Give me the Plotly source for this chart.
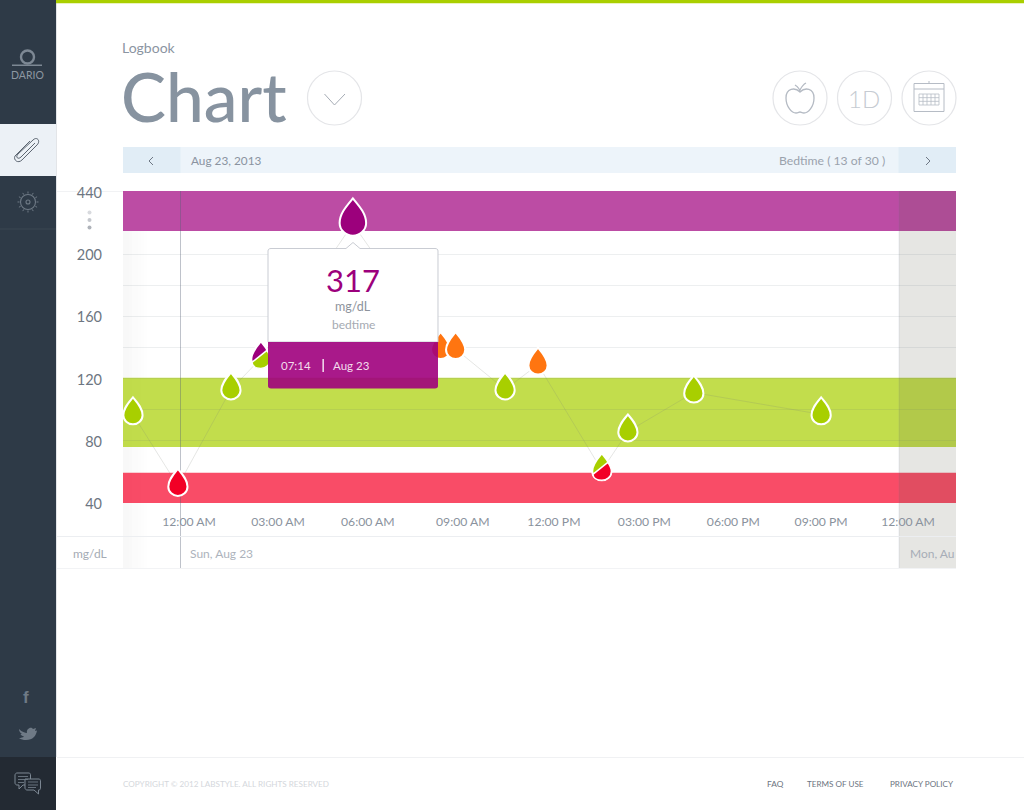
import math
import re
import plotly.graph_objects as go

# ---------- data ----------
hours = [-1.57, -0.07, 1.70, 2.70, 5.77, 8.70, 9.20, 10.85, 11.95, 14.08, 14.95, 17.15, 21.40]
glucose = [97, 51, 113, 133, 317, 139, 139, 113, 129, 61, 86, 111, 97]
levels = ["ok", "low", "ok", "ok", "top", "warn", "warn", "ok", "warn", "ok", "ok", "ok", "ok"]
split_lower = [None, None, None, "top_below_ok", None, None, None, None, None, "low", None, None, None]
y_tick_values = [40, 80, 120, 160, 200, 440]
y_tick_labels = ["40", "80", "120", "160", "200", "440"]
y_minor_values = [100, 140, 180]
x_tick_hours = [0.30, 3.27, 6.27, 9.44, 12.48, 15.50, 18.47, 21.40, 24.30]
x_tick_labels = ["12:00 AM", "03:00 AM", "06:00 AM", "09:00 AM", "12:00 PM",
                 "03:00 PM", "06:00 PM", "09:00 PM", "12:00 AM"]
band_low = [40, 59.5]
band_target = [76, 120.5]
band_high = [290, 444]
selected_value = "317"
selected_unit = "mg/dL"
selected_tag = "bedtime"
selected_time = "07:14"
selected_date = "Aug 23"

# ---------- helpers ----------
W, H = 1024, 810
PLOT_L, PLOT_R, PLOT_T, PLOT_B = 123, 956, 191, 503
PX_PER_HOUR = 29.96
ZERO_PX = 180
COL = {"ok": "#a8cf00", "low": "#f20026", "warn": "#ff7510", "top": "#9c007c"}
TXT = "#7f8894"


def squash(v):
    """The axis is compressed above 200 mg/dL (200 -> 440 takes one 40 step)."""
    return v if v <= 200 else 200 + (v - 200) / 6


def px(x):
    return x / W


def py(y):
    return 1 - y / H


def pp(d):
    out, i = [], 0
    for tok in re.findall(r"[A-Za-z]|-?\d+\.?\d*", d):
        if tok.isalpha():
            out.append(tok)
        else:
            v = float(tok)
            out.append(f"{px(v) if i % 2 == 0 else py(v):.5f}")
            i += 1
    return " ".join(out)


shapes = []
annotations = []


def rect(x0, y0, x1, y1, fill, layer="below", line=None):
    shapes.append(dict(type="rect", xref="paper", yref="paper", x0=px(x0), x1=px(x1),
                       y0=py(y0), y1=py(y1), fillcolor=fill, layer=layer,
                       line=dict(width=0) if line is None else line))


def path(d, stroke="#000", width=1.0, fill="rgba(0,0,0,0)", layer="above"):
    shapes.append(dict(type="path", xref="paper", yref="paper", path=pp(d), layer=layer,
                       fillcolor=fill, line=dict(color=stroke, width=width)))


def circle(cx, cy, r, stroke="#e4e5e8", width=1.2, fill="rgba(0,0,0,0)", layer="above"):
    shapes.append(dict(type="circle", xref="paper", yref="paper", x0=px(cx - r), x1=px(cx + r),
                       y0=py(cy + r), y1=py(cy - r), fillcolor=fill, layer=layer,
                       line=dict(color=stroke, width=width)))


def text(x, y, s, size=12, color=TXT, anchor="left", family="Lato", weight=None):
    # annotations carry about 2px of inner padding
    shift = {"left": -2, "right": 2, "center": 0}[anchor]
    font = dict(size=size, color=color, family=family)
    if weight:
        font["weight"] = weight
    annotations.append(dict(xref="paper", yref="paper", x=px(x + shift), y=py(y), text=s, showarrow=False,
                            xanchor=anchor, yanchor="middle", align=anchor, font=font))


def drop_path(k=1.0, dy=0.0):
    pts = [(0, 17), (4.6, 11.5), (9.6, 6), (9.6, -0.8), (9.6, -6), (5, -10), (0, -10),
           (-5, -10), (-9.6, -6), (-9.6, -0.8), (-9.6, 6), (-4.6, 11.5), (0, 17)]
    p = [(a * k, b * k + dy) for a, b in pts]
    d = f"M {p[0][0]:.2f} {p[0][1]:.2f}"
    for i in range(1, len(p), 3):
        d += " C " + " ".join(f"{a:.2f} {b:.2f}" for a, b in p[i:i + 3])
    return d + " Z"


LOWER_PART = "M 6 8 C 8 5 9.6 2 9.6 -0.8 C 9.6 -6 5 -10 0 -10 C -5 -10 -8.5 -7.5 -9 -4 Z"

# ---------- page furniture, below the plot ----------
# faint fade at the left of the chart
for i, a in enumerate([0.04, 0.035, 0.03, 0.025, 0.02, 0.015, 0.01, 0.005]):
    rect(123 + i * 3, 231, 126 + i * 3, 568, f"rgba(70,70,70,{a})")

for low, high, c in [(band_low, None, "rgba(247,0,38,0.7)"),
                     (band_target, None, "rgba(168,207,0,0.7)"),
                     (band_high, None, "rgba(160,0,125,0.7)")]:
    shapes.append(dict(type="rect", xref="paper", yref="y", x0=px(PLOT_L), x1=px(PLOT_R),
                       y0=squash(low[0]), y1=squash(low[1]), fillcolor=c, layer="below",
                       line=dict(width=0)))

rect(899, 191, 956, 568, "rgba(90,85,65,0.15)")
rect(898.5, 191, 899.5, 568, "rgba(110,125,160,0.14)")
rect(180, 191, 181, 568, "rgba(85,95,115,0.38)")
rect(56, 536, 956, 537, "#eceef1")
rect(56, 568, 956, 569, "#f2f3f5")
rect(56, 191, 123, 192, "#f1f2f4")

# ---------- point shapes, anchored to the data ----------
for h, v, lev, low in zip(hours, glucose, levels, split_lower):
    big = lev == "top"
    base = dict(type="path", xref="x", yref="y", xsizemode="pixel", ysizemode="pixel",
                xanchor=h, yanchor=squash(v), layer="above")
    shapes.append({**base, "path": drop_path(1.38 if big else 1.0, 2 if big else 0),
                   "fillcolor": COL[lev], "line": dict(color="#ffffff", width=2)})
    if low:
        top_col, low_col = (COL["top"], COL["ok"]) if low == "top_below_ok" else (COL["ok"], COL[low])
        shapes[-1]["fillcolor"] = top_col
        shapes.append({**base, "path": LOWER_PART, "fillcolor": low_col,
                       "line": dict(color="#ffffff", width=1.5)})

# ---------- tooltip ----------
path("M 271 248.5 L 346 248.5 L 353 242.5 L 360 248.5 L 435 248.5 C 437 248.5 438 249.5 438 251 "
     "L 438 342 L 268 342 L 268 251 C 268 249.5 269 248.5 271 248.5 Z",
     stroke="#c9ccd3", width=1, fill="#ffffff")
path("M 268 342 L 438 342 L 438 386 C 438 387.5 437 388.5 435 388.5 L 271 388.5 "
     "C 269 388.5 268 387.5 268 386 Z", stroke="rgba(0,0,0,0)", width=0,
     fill="rgba(160,0,125,0.9)")
rect(322.5, 359, 323.8, 372, "#ffffff", layer="above")
text(353, 280, selected_value, size=31, color="#9c007c", anchor="center")
text(353, 306, selected_unit, size=12.5, color="#8d939c", anchor="center")
text(353, 324, selected_tag, size=12, color="#a5aab2", anchor="center")
text(281, 365, selected_time, size=11.5, color="#f3dcec")
text(333, 365, selected_date, size=11.5, color="#f3dcec")

# ---------- sidebar ----------
rect(0, 0, 56, 810, "#2e3a47", layer="above")
rect(56, 0, 57, 757, "#e3e5e8", layer="above")
rect(0, 124, 56, 176, "#ecf1f6", layer="above")
rect(0, 228.5, 56, 229.5, "#3a4653", layer="above")
rect(0, 757, 56, 810, "#232a33", layer="above")
rect(56, 0, W, 3.3, "#aacf00", layer="above")
# logo
circle(27.5, 57, 6.5, stroke="#7d8894", width=2.4)
rect(12, 64.5, 42, 66, "#7d8894", layer="above")
text(27.5, 75, "DARIO", size=10.5, color="#8d97a2", anchor="center")
# paperclip
path("M 35 143 L 21 157 C 18 160 15 157 18 154 L 33 140 C 37 136 41 141 37 145 L 22 160 "
     "C 18 164 13 160 15 156 L 30 141", stroke="#4b5561", width=0.9)
# gear
circle(28, 202, 7.5, stroke="#6f7a86", width=1.1)
circle(28, 202, 2, stroke="#6f7a86", width=1.1)
for k in range(12):
    a = k * math.pi / 6
    path(f"M {28 + 8.5 * math.cos(a):.2f} {202 + 8.5 * math.sin(a):.2f} "
         f"L {28 + 10.5 * math.cos(a):.2f} {202 + 10.5 * math.sin(a):.2f}",
         stroke="#6f7a86", width=1)
# social
text(26, 697, "<b>f</b>", size=17, color="#6f7a86", anchor="center", family="Liberation Sans")
path("M 19 729 C 22 732 25 733 27 733 C 26 729 31 726 33 729 L 36 728 L 35 731 L 37 730.5 "
     "C 36 736 33 740 26 740 C 23 740 21 739.5 19 738 C 21 738 23 737.5 24 736.5 "
     "C 22 736 21 735 20.5 734 L 22 734 C 20 733 19 731 19 729 Z",
     stroke="rgba(0,0,0,0)", width=0, fill="#6f7a86")
# chat
path("M 15 775 C 15 774 16 773 17 773 L 29 773 C 30 773 30.5 774 30.5 775 L 30.5 783 C 30.5 784 30 785 29 785 "
     "L 23 785 L 19 789 L 19 785 L 17 785 C 16 785 15 784 15 783 Z", stroke="#7d8894", width=1)
path("M 25 779 L 39 779 C 40 779 40.5 780 40.5 781 L 40.5 788 C 40.5 789 40 790 39 790 L 38.5 790 L 38.5 794 "
     "L 34 790 L 27 790 C 26 790 25 789 25 788 Z", stroke="#7d8894", width=1, fill="#232a33")
for yy, x0, x1 in [(776.5, 18, 28), (779.5, 18, 28), (782.5, 18, 24),
                   (782, 28, 38), (785, 28, 38), (787.5, 28, 36)]:
    path(f"M {x0} {yy} L {x1} {yy}", stroke="#6f7a86", width=0.9)

# ---------- header ----------
text(122, 48, "Logbook", size=14, color="#8b95a2")
text(120.5, 96, "Chart", size=67.5, color="#8793a0", weight=500)
circle(334.5, 98, 27)
path("M 324.5 94 L 334.5 105 L 345 94", stroke="#a6acb5", width=1)
circle(800, 98, 27)
circle(864.5, 98, 27)
circle(929, 98, 27)
path("M 800 92 C 795 87 786 88 786 98 C 786 107 792 113 796 113 C 798 113 799 112 800 112 "
     "C 801 112 802 113 804 113 C 808 113 814 107 814 98 C 814 88 805 87 800 92 Z "
     "M 800 92 C 800 89 798 87 795 85 M 800 90 C 802 86 804 84 806 83",
     stroke="#b4bac3", width=1.3)
text(864, 98, "1D", size=24, color="#c6cbd2", anchor="center", weight=300)
path("M 914 83.5 L 944 83.5 L 944 111.5 L 914 111.5 Z M 914 89 L 944 89 M 929 81 L 929 84",
     stroke="#b6bcc5", width=1)
for i in range(6):
    path(f"M {919 + i * 4} 94 L {919 + i * 4} 105", stroke="#b6bcc5", width=0.8)
for i in range(4):
    yy = 94 + i * 3.67
    path(f"M 919 {yy:.2f} L 939 {yy:.2f}", stroke="#b6bcc5", width=0.8)

# date strip
rect(123, 147, 956, 173, "#edf4fa", layer="above")
rect(123, 147, 180.5, 173, "#e1edf6", layer="above")
rect(898.5, 147, 956, 173, "#e1edf6", layer="above")
path("M 153 157 L 149 161 L 153 165", stroke="#6d7784", width=1)
path("M 926 157 L 930 161 L 926 165", stroke="#6d7784", width=1)
text(190.5, 160, "Aug 23, 2013", size=11.8, color="#8a93a0")
text(885, 160, "Bedtime ( 13 of 30 )", size=12.2, color="#9aa2ad", anchor="right")

# axis companions
for yy, c in [(212.5, "#d8dade"), (220, "#c4c7cd"), (227.5, "#aeb2b9")]:
    circle(89.5, yy, 2, stroke="rgba(0,0,0,0)", width=0, fill=c)
text(89.5, 553, "mg/dL", size=12, color="#a4abb4", anchor="center")
text(190, 553, "Sun, Aug 23", size=12, color="#adb3bc")
text(910, 553, "Mon, Au", size=12, color="#a7adb7")

# footer
rect(57, 757, W, 758, "#f0f1f3", layer="above")
text(123, 784, "COPYRIGHT © 2012 LABSTYLE. ALL RIGHTS RESERVED", size=8.15, color="#d4d7dc")
text(775, 784, "FAQ", size=8.3, color="#6b7480", anchor="center")
text(835.5, 784, "TERMS OF USE", size=8.1, color="#6b7480", anchor="center")
text(921.5, 784, "PRIVACY POLICY", size=8.1, color="#6b7480", anchor="center")

# ---------- figure ----------
fig = go.Figure(go.Scatter(
    x=hours, y=[squash(v) for v in glucose], mode="lines+markers", hoverinfo="skip",
    line=dict(color="rgba(125,130,120,0.2)", width=1),
    marker=dict(size=[24 if l == "top" else 18 for l in levels], color=[COL[l] for l in levels]),
))
grid = "rgba(95,105,115,0.11)"
fig.update_layout(
    width=W, height=H, margin=dict(l=0, r=0, t=0, b=0, autoexpand=False), showlegend=False,
    paper_bgcolor="#ffffff", plot_bgcolor="rgba(0,0,0,0)",
    shapes=shapes, annotations=annotations,
    xaxis=dict(domain=[px(PLOT_L), px(PLOT_R)], automargin=False,
               range=[(PLOT_L - ZERO_PX) / PX_PER_HOUR, (PLOT_R - ZERO_PX) / PX_PER_HOUR],
               tickmode="array", tickvals=x_tick_hours, ticktext=x_tick_labels,
               showgrid=False, zeroline=False, showline=False, ticks="",
               ticklabelstandoff=10, fixedrange=True,
               tickfont=dict(family="Lato", size=12.2, color="#8a929d")),
    yaxis=dict(domain=[py(PLOT_B), py(PLOT_T)], automargin=False,
               range=[40, 40 + (PLOT_B - PLOT_T) / 1.555],
               tickmode="array", tickvals=[squash(v) for v in y_tick_values], ticktext=y_tick_labels,
               showgrid=True, gridcolor=grid, gridwidth=1, zeroline=False, showline=False, ticks="",
               minor=dict(tickmode="array", tickvals=y_minor_values, showgrid=True,
                          gridcolor=grid, gridwidth=1, ticks=""),
               ticklabelstandoff=20, ticklabelshift=1, fixedrange=True,
               tickfont=dict(family="Lato", size=14.5, color="#6d7681")),
)
fig.write_html("out.html", config=dict(displayModeBar=False),
               post_script="document.body.style.margin='0';document.body.style.overflow='hidden';")
